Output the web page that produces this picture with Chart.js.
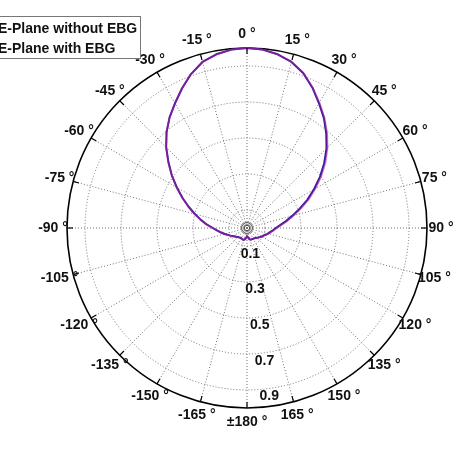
<!DOCTYPE html>
<html>
<head>
<meta charset="utf-8">
<script src="https://cdn.jsdelivr.net/npm/chart.js@4/dist/chart.umd.min.js"></script>
<style>
html,body{margin:0;padding:0;background:#fff;}
#wrap{position:relative;width:474px;height:474px;}
</style>
</head>
<body>
<div id="wrap"><canvas id="c"></canvas></div>
<script>
// Angles (deg, clockwise from top), every 5 degrees; 185..355 correspond to -175..-5
const angles = [0,5,10,15,20,25,30,35,40,45,50,55,60,65,70,75,80,85,90,95,100,105,110,115,120,125,130,135,140,145,150,155,160,165,170,175,180,
  185,190,195,200,205,210,215,220,225,230,235,240,245,250,255,260,265,270,275,280,285,290,295,300,305,310,315,320,325,330,335,340,345,350,355];

// Angular tick labels (every 15 degrees)
const angleTickValues = [0,15,30,45,60,75,90,105,120,135,150,165,180,195,210,225,240,255,270,285,300,315,330,345];
const angleTickLabels = ['0 °','15 °','30 °','45 °','60 °','75 °','90 °','105 °','120 °','135 °','150 °','165 °','±180 °',
  '-165 °','-150 °','-135 °','-120 °','-105 °','-90 °','-75 °','-60 °','-45 °','-30 °','-15 °'];

// Radial rings and their labels
const radialTicks = [0, 0.015, 0.03, 0.1, 0.3, 0.5, 0.7, 0.9, 1.0];
const radialLabelValues = [0.1, 0.3, 0.5, 0.7, 0.9];
const radialLabels = ['0.1','0.3','0.5','0.7','0.9'];

// Series (normalized pattern), indexed like `angles`
const withoutEBG = [1.00,0.995,0.98,0.955,0.915,0.86,0.80,0.745,0.685,0.625,0.56,0.495,0.43,0.37,0.31,0.26,0.22,0.185,0.16,0.145,0.13,0.12,0.11,0.10,0.095,0.088,0.082,0.077,0.073,0.07,0.069,0.068,0.068,0.066,0.06,0.05,0.045,
  0.055,0.063,0.068,0.068,0.066,0.065,0.066,0.068,0.071,0.076,0.082,0.09,0.10,0.112,0.128,0.145,0.165,0.19,0.225,0.26,0.30,0.345,0.395,0.45,0.51,0.57,0.635,0.695,0.75,0.80,0.855,0.91,0.955,0.98,0.995];
const withEBG = [1.00,0.995,0.98,0.955,0.917,0.862,0.805,0.75,0.692,0.633,0.57,0.505,0.44,0.38,0.32,0.27,0.228,0.192,0.166,0.15,0.135,0.123,0.112,0.102,0.096,0.089,0.083,0.078,0.073,0.07,0.069,0.068,0.068,0.066,0.06,0.05,0.045,
  0.055,0.063,0.068,0.069,0.067,0.066,0.067,0.07,0.074,0.079,0.085,0.093,0.103,0.115,0.13,0.147,0.167,0.192,0.226,0.262,0.302,0.347,0.397,0.452,0.511,0.571,0.636,0.696,0.75,0.80,0.855,0.91,0.955,0.98,0.995];

const seriesNames = ['E-Plane without EBG', 'E-Plane with EBG'];

const FONT = '"Liberation Sans", Arial, Helvetica, sans-serif';

const labels = angles.map(a => {
  const k = angleTickValues.indexOf(a);
  return k >= 0 ? angleTickLabels[k] : '';
});

const polarDecor = {
  id: 'polarDecor',
  afterDraw(chart) {
    const s = chart.scales.r;
    const ctx = chart.ctx;
    const R = s.drawingArea;
    ctx.save();
    // outer tick marks
    ctx.strokeStyle = '#000';
    ctx.lineWidth = 1.2;
    angles.forEach((a, i) => {
      if (angleTickValues.indexOf(a) < 0) return;
      const p1 = s.getPointPosition(i, R);
      const p2 = s.getPointPosition(i, R - 6);
      ctx.beginPath(); ctx.moveTo(p1.x, p1.y); ctx.lineTo(p2.x, p2.y); ctx.stroke();
    });
    // angle labels
    ctx.fillStyle = '#111';
    ctx.font = 'bold 14px ' + FONT;
    ctx.textAlign = 'center';
    ctx.textBaseline = 'middle';
    angles.forEach((a, i) => {
      const k = angleTickValues.indexOf(a);
      if (k < 0) return;
      const p = s.getPointPosition(i, R + 14);
      ctx.fillText(angleTickLabels[k], p.x, p.y);
    });
    // radial labels
    const th = 172.5 * Math.PI / 180;
    radialLabelValues.forEach((v, j) => {
      const d = s.getDistanceFromCenterForValue(v) + 8;
      ctx.fillText(radialLabels[j], s.xCenter + d * Math.sin(th), s.yCenter - d * Math.cos(th));
    });
    // legend box (partly off canvas)
    ctx.fillStyle = '#fff';
    ctx.fillRect(-10, 16, 150.5, 42);
    ctx.strokeStyle = '#777';
    ctx.lineWidth = 1;
    ctx.strokeRect(-10, 16.5, 150.5, 42);
    ctx.fillStyle = '#111';
    ctx.font = 'bold 14px ' + FONT;
    ctx.textAlign = 'left';
    ctx.fillText(seriesNames[0], -2, 29.5);
    ctx.fillText(seriesNames[1], -2, 49);
    ctx.restore();
  }
};

new Chart(document.getElementById('c'), {
  type: 'radar',
  data: {
    labels: labels,
    datasets: [
      { label: seriesNames[0], data: withoutEBG, borderColor: 'rgb(40,30,160)', borderWidth: 2, pointRadius: 0, fill: false, tension: 0, order: 1 },
      { label: seriesNames[1], data: withEBG, borderColor: 'rgba(190,30,150,0.55)', borderWidth: 1.8, pointRadius: 0, fill: false, tension: 0, order: 0 }
    ]
  },
  options: {
    responsive: true,
    maintainAspectRatio: false,
    animation: false,
    layout: { padding: { left: 67, right: 47, top: 48, bottom: 66 } },
    plugins: { legend: { display: false }, tooltip: { enabled: false } },
    elements: { line: { borderJoinStyle: 'round' } },
    scales: {
      r: {
        min: 0, max: 1,
        startAngle: 0,
        afterBuildTicks: (sc) => { sc.ticks = radialTicks.map(v => ({ value: v })); },
        ticks: { display: false },
        pointLabels: { display: false },
        grid: {
          circular: true,
          color: (c) => (c.tick && c.tick.value === 1) ? '#000' : (c.tick && c.tick.value < 0.05 ? '#444' : '#707070'),
          lineWidth: (c) => (c.tick && c.tick.value === 1) ? 1.6 : 1
        },
        border: {
          dash: (c) => (c.tick && (c.tick.value === 1 || c.tick.value < 0.05)) ? [] : [1, 2]
        },
        angleLines: {
          display: true,
          color: (c) => (angleTickValues.indexOf(angles[c.index]) >= 0) ? '#707070' : 'rgba(0,0,0,0)',
          lineWidth: 1,
          borderDash: [1, 2]
        }
      }
    }
  },
  plugins: [polarDecor]
});
</script>
</body>
</html>
